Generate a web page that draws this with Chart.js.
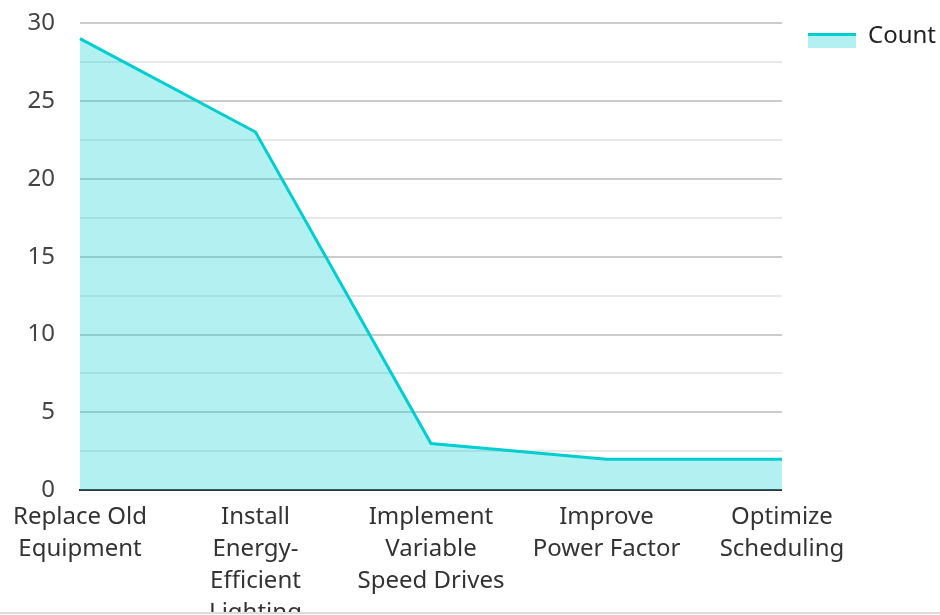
<!DOCTYPE html>
<html>
<head>
<meta charset="utf-8">
<script src="https://cdn.jsdelivr.net/npm/chart.js@4/dist/chart.umd.min.js"></script>
<style>
html,body{margin:0;padding:0;background:#fff;}
#wrap{width:940px;height:612px;overflow:hidden;border-bottom:2px solid #dcdcdc;position:relative;}
canvas{display:block;}
</style>
</head>
<body>
<div id="wrap"><canvas id="c" width="940" height="640"></canvas></div>
<script>
const categories = [
  ["Replace Old", "Equipment"],
  ["Install", "Energy-", "Efficient", "Lighting"],
  ["Implement", "Variable", "Speed Drives"],
  ["Improve", "Power Factor"],
  ["Optimize", "Scheduling"]
];
const counts = [29, 23, 3, 2, 2];
const seriesName = "Count";

const lineColor = '#00CED1';
const fillColor = 'rgba(0,206,209,0.3)';
const font = {family: "'Noto Sans', 'Open Sans', sans-serif", size: 24, lineHeight: 1.33};

// legend marker: filled swatch with a thick top line (transparent margins for spacing)
const marker = document.createElement('canvas');
marker.width = 73; marker.height = 24;
(function () {
  const m = marker.getContext('2d');
  m.fillStyle = fillColor;
  m.fillRect(25, 9, 48, 15);
  m.fillStyle = lineColor;
  m.fillRect(25, 9, 48, 3);
})();

new Chart(document.getElementById('c'), {
  type: 'line',
  data: {
    labels: categories,
    datasets: [{
      label: seriesName,
      data: counts,
      borderColor: lineColor,
      backgroundColor: fillColor,
      borderWidth: 3,
      fill: 'origin',
      tension: 0,
      pointRadius: 0,
      pointHoverRadius: 0,
      pointStyle: marker
    }]
  },
  options: {
    responsive: false,
    animation: false,
    layout: {padding: {top: 23, left: 0, right: -6, bottom: 0}},
    plugins: {
      legend: {
        position: 'right',
        align: 'start',
        labels: {
          font: font,
          color: '#222',
          usePointStyle: true,
          pointStyleWidth: 73,
          boxHeight: 24,
          padding: 1
        }
      },
      tooltip: {enabled: false}
    },
    scales: {
      x: {
        offset: false,
        grid: {display: false, drawTicks: false},
        border: {display: true, color: '#333', width: 2},
        ticks: {font: font, color: '#333', maxRotation: 0, autoSkip: false, padding: 11}
      },
      y: {
        min: 0,
        max: 30,
        afterFit: scale => { scale.width = 80; },
        grid: {
          drawTicks: true,
          tickLength: 25,
          tickColor: 'rgba(0,0,0,0)',
          color: ctx => (ctx.tick && ctx.tick.value % 5 === 0) ? '#cccccc' : '#e8e8e8',
          lineWidth: 2
        },
        border: {display: false},
        ticks: {
          stepSize: 2.5,
          font: font,
          color: '#444',
          padding: 0,
          callback: v => (v % 5 === 0 ? String(v) : '')
        }
      }
    }
  }
});
</script>
</body>
</html>
